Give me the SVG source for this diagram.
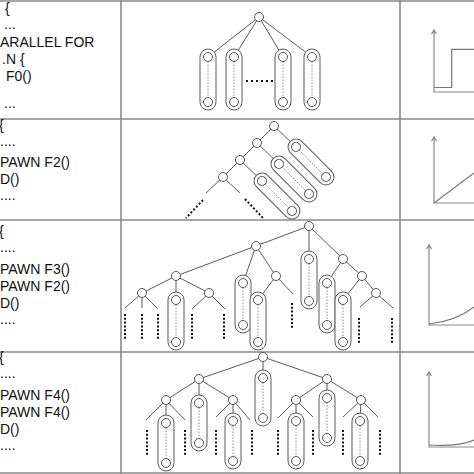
<svg xmlns="http://www.w3.org/2000/svg" width="474" height="474" viewBox="0 0 474 474">
<style>
.grid{stroke:#8a8a8a;stroke-width:1.6;fill:none}
.edge{stroke:#5a5a5a;stroke-width:1;fill:none}
.node{fill:#fff;stroke:#555;stroke-width:1}
.cap{fill:#fff;stroke:#5a5a5a;stroke-width:1}
.inner{stroke:#777;stroke-width:0.8;stroke-dasharray:1.5 1.5;fill:none}
.dots{stroke:#111;stroke-width:2;stroke-dasharray:2 1.8;fill:none}
.txt{font-family:"Liberation Sans",Arial,sans-serif;font-size:14px;fill:#111}
.axis{stroke:#8a8a8a;stroke-width:1.2;fill:none}
.plot{stroke:#777;stroke-width:1.2;fill:none}
</style>
<defs>
<g id="vcap42"><rect class="cap" x="-8" y="-8" width="16" height="58" rx="8"/><line class="inner" x1="0" y1="4.5" x2="0" y2="37.5"/><circle class="node" cx="0" cy="0" r="4.5"/><circle class="node" cx="0" cy="42" r="4.5"/></g>
<g id="vcap40"><rect class="cap" x="-8" y="-8" width="16" height="56" rx="8"/><line class="inner" x1="0" y1="4.5" x2="0" y2="35.5"/><circle class="node" cx="0" cy="0" r="4.5"/><circle class="node" cx="0" cy="40" r="4.5"/></g>
<g id="vcap45"><rect class="cap" x="-8" y="-8" width="16" height="61" rx="8"/><line class="inner" x1="0" y1="4.5" x2="0" y2="40.5"/><circle class="node" cx="0" cy="0" r="4.5"/><circle class="node" cx="0" cy="45" r="4.5"/></g>
<g id="dcap"><rect class="cap" x="-29.2" y="-8" width="58.4" height="16" rx="8"/><line class="inner" x1="-16.7" y1="0" x2="16.7" y2="0"/><circle class="node" cx="-21.2" cy="0" r="4.5"/><circle class="node" cx="21.2" cy="0" r="4.5"/></g>
</defs>
<rect x="0" y="0" width="474" height="474" fill="#fff"/>
<g id="grid">
<line class="grid" x1="0" y1="1" x2="474" y2="1"/>
<line class="grid" x1="0" y1="119" x2="474" y2="119"/>
<line class="grid" x1="0" y1="220" x2="474" y2="220"/>
<line class="grid" x1="0" y1="352" x2="474" y2="352"/>
<line class="grid" x1="0" y1="473" x2="474" y2="473"/>
<line class="grid" x1="121" y1="0" x2="121" y2="474"/>
<line class="grid" x1="400" y1="0" x2="400" y2="474"/>
</g>
<g id="code">
<text class="txt" x="5" y="13">{</text>
<text class="txt" x="4" y="29">...</text>
<text class="txt" x="0" y="47">ARALLEL FOR</text>
<text class="txt" x="2" y="64">.N {</text>
<text class="txt" x="6" y="81">F0()</text>
<text class="txt" x="4" y="108">...</text>
<text class="txt" x="-1" y="130">{</text>
<text class="txt" x="0" y="146">....</text>
<text class="txt" x="0" y="167">PAWN F2()</text>
<text class="txt" x="0" y="184">D()</text>
<text class="txt" x="0" y="200">....</text>
<text class="txt" x="-1" y="236">{</text>
<text class="txt" x="0" y="252">....</text>
<text class="txt" x="0" y="274">PAWN F3()</text>
<text class="txt" x="0" y="291">PAWN F2()</text>
<text class="txt" x="0" y="308">D()</text>
<text class="txt" x="0" y="324">....</text>
<text class="txt" x="-1" y="362">{</text>
<text class="txt" x="0" y="378">....</text>
<text class="txt" x="0" y="400">PAWN F4()</text>
<text class="txt" x="0" y="417">PAWN F4()</text>
<text class="txt" x="0" y="434">D()</text>
<text class="txt" x="0" y="450">....</text>
</g>
<g id="connectors">
<line class="edge" x1="259" y1="17" x2="208" y2="57"/>
<line class="edge" x1="259" y1="17" x2="234" y2="57"/>
<line class="edge" x1="259" y1="17" x2="283" y2="57"/>
<line class="edge" x1="259" y1="17" x2="312" y2="57"/>
<line class="dots" x1="246" y1="81" x2="273" y2="81" style="stroke-dasharray:2 3"/>
<line class="edge" x1="274" y1="126" x2="223" y2="177"/>
<line class="edge" x1="274" y1="126" x2="296" y2="147"/>
<line class="edge" x1="257" y1="143" x2="279" y2="164"/>
<line class="edge" x1="240" y1="160" x2="262" y2="181"/>
<line class="edge" x1="223" y1="177" x2="206" y2="193"/>
<line class="edge" x1="223" y1="177" x2="240" y2="193"/>
<line class="dots" x1="203" y1="200" x2="186" y2="218" style="stroke-dasharray:2 2"/>
<line class="dots" x1="245" y1="199" x2="263" y2="218" style="stroke-dasharray:2 2"/>
<line class="edge" x1="309" y1="226" x2="176" y2="276"/>
<line class="edge" x1="176" y1="276" x2="142" y2="293"/>
<line class="edge" x1="176" y1="276" x2="176" y2="300"/>
<line class="edge" x1="176" y1="276" x2="209" y2="293"/>
<line class="edge" x1="142" y1="293" x2="125" y2="308"/>
<line class="edge" x1="142" y1="293" x2="142" y2="308"/>
<line class="edge" x1="142" y1="293" x2="158" y2="309"/>
<line class="edge" x1="209" y1="293" x2="192" y2="309"/>
<line class="edge" x1="209" y1="293" x2="225" y2="309"/>
<line class="edge" x1="256" y1="246" x2="243" y2="283"/>
<line class="edge" x1="256" y1="246" x2="276" y2="276"/>
<line class="edge" x1="276" y1="276" x2="258" y2="300"/>
<line class="edge" x1="276" y1="276" x2="293" y2="294"/>
<line class="edge" x1="309" y1="226" x2="309" y2="259"/>
<line class="edge" x1="309" y1="226" x2="343" y2="259"/>
<line class="edge" x1="343" y1="259" x2="327" y2="283"/>
<line class="edge" x1="343" y1="259" x2="362" y2="276"/>
<line class="edge" x1="362" y1="276" x2="343" y2="300"/>
<line class="edge" x1="362" y1="276" x2="376" y2="293"/>
<line class="edge" x1="376" y1="293" x2="360" y2="307"/>
<line class="edge" x1="376" y1="293" x2="393" y2="308"/>
<line class="dots" x1="125" y1="314" x2="125" y2="340"/>
<line class="dots" x1="142" y1="314" x2="142" y2="340"/>
<line class="dots" x1="158" y1="314" x2="158" y2="340"/>
<line class="dots" x1="192" y1="314" x2="192" y2="340"/>
<line class="dots" x1="224" y1="314" x2="224" y2="340"/>
<line class="dots" x1="292" y1="303" x2="292" y2="328"/>
<line class="dots" x1="359" y1="318" x2="359" y2="343"/>
<line class="dots" x1="392" y1="318" x2="392" y2="343"/>
<line class="edge" x1="263" y1="357" x2="199" y2="379"/>
<line class="edge" x1="263" y1="357" x2="263" y2="378"/>
<line class="edge" x1="263" y1="357" x2="327" y2="379"/>
<line class="edge" x1="199" y1="379" x2="166" y2="400"/>
<line class="edge" x1="199" y1="379" x2="199" y2="403"/>
<line class="edge" x1="199" y1="379" x2="233" y2="400"/>
<line class="edge" x1="166" y1="400" x2="146" y2="420"/>
<line class="edge" x1="166" y1="400" x2="166" y2="423"/>
<line class="edge" x1="166" y1="400" x2="185" y2="420"/>
<line class="edge" x1="233" y1="400" x2="216" y2="417"/>
<line class="edge" x1="233" y1="400" x2="233" y2="421"/>
<line class="edge" x1="233" y1="400" x2="250" y2="420"/>
<line class="edge" x1="327" y1="379" x2="296" y2="400"/>
<line class="edge" x1="327" y1="379" x2="327" y2="398"/>
<line class="edge" x1="327" y1="379" x2="361" y2="400"/>
<line class="edge" x1="296" y1="400" x2="278" y2="418"/>
<line class="edge" x1="296" y1="400" x2="296" y2="421"/>
<line class="edge" x1="296" y1="400" x2="313" y2="417"/>
<line class="edge" x1="361" y1="400" x2="343" y2="417"/>
<line class="edge" x1="361" y1="400" x2="360" y2="421"/>
<line class="edge" x1="361" y1="400" x2="378" y2="417"/>
<line class="dots" x1="147" y1="430" x2="147" y2="455"/>
<line class="dots" x1="185" y1="430" x2="185" y2="455"/>
<line class="dots" x1="216" y1="430" x2="216" y2="455"/>
<line class="dots" x1="252" y1="430" x2="252" y2="455"/>
<line class="dots" x1="278" y1="430" x2="278" y2="455"/>
<line class="dots" x1="313" y1="430" x2="313" y2="455"/>
<line class="dots" x1="343" y1="430" x2="343" y2="455"/>
<line class="dots" x1="380" y1="430" x2="380" y2="455"/>
</g>
<g id="r1-root"><circle class="node" cx="259" cy="17" r="4.5"/></g>
<g id="r1-cap1"><use href="#vcap45" x="208" y="57"/></g>
<g id="r1-cap2"><use href="#vcap45" x="234" y="57"/></g>
<g id="r1-cap3"><use href="#vcap45" x="283" y="57"/></g>
<g id="r1-cap4"><use href="#vcap45" x="312" y="57"/></g>
<g id="r2-n0"><circle class="node" cx="274" cy="126" r="4.5"/></g>
<g id="r2-n1"><circle class="node" cx="257" cy="143" r="4.5"/></g>
<g id="r2-n2"><circle class="node" cx="240" cy="160" r="4.5"/></g>
<g id="r2-n3"><circle class="node" cx="223" cy="177" r="4.5"/></g>
<g id="r2-cap0"><use href="#dcap" transform="translate(311,162) rotate(45)"/></g>
<g id="r2-cap1"><use href="#dcap" transform="translate(294,179) rotate(45)"/></g>
<g id="r2-cap2"><use href="#dcap" transform="translate(277,196) rotate(45)"/></g>
<g id="r3-R"><circle class="node" cx="309" cy="226" r="4.5"/></g>
<g id="r3-A"><circle class="node" cx="256" cy="246" r="4.5"/></g>
<g id="r3-B"><circle class="node" cx="176" cy="276" r="4.5"/></g>
<g id="r3-C"><circle class="node" cx="142" cy="293" r="4.5"/></g>
<g id="r3-D"><circle class="node" cx="209" cy="293" r="4.5"/></g>
<g id="r3-E"><circle class="node" cx="276" cy="276" r="4.5"/></g>
<g id="r3-F"><circle class="node" cx="343" cy="259" r="4.5"/></g>
<g id="r3-G"><circle class="node" cx="362" cy="276" r="4.5"/></g>
<g id="r3-H"><circle class="node" cx="376" cy="293" r="4.5"/></g>
<g id="r3-capB"><use href="#vcap42" x="176" y="300"/></g>
<g id="r3-capA"><use href="#vcap42" x="243" y="283"/></g>
<g id="r3-capE"><use href="#vcap42" x="258" y="300"/></g>
<g id="r3-capR"><use href="#vcap42" x="309" y="259"/></g>
<g id="r3-capF"><use href="#vcap42" x="327" y="283"/></g>
<g id="r3-capG"><use href="#vcap42" x="343" y="300"/></g>
<g id="r4-R"><circle class="node" cx="263" cy="357" r="4.5"/></g>
<g id="r4-L1"><circle class="node" cx="199" cy="379" r="4.5"/></g>
<g id="r4-R1"><circle class="node" cx="327" cy="379" r="4.5"/></g>
<g id="r4-LL"><circle class="node" cx="166" cy="400" r="4.5"/></g>
<g id="r4-LR"><circle class="node" cx="233" cy="400" r="4.5"/></g>
<g id="r4-RL"><circle class="node" cx="296" cy="400" r="4.5"/></g>
<g id="r4-RR"><circle class="node" cx="361" cy="400" r="4.5"/></g>
<g id="r4-capR"><use href="#vcap40" x="263" y="378"/></g>
<g id="r4-capL1"><use href="#vcap40" x="199" y="403"/></g>
<g id="r4-capR1"><use href="#vcap40" x="327" y="398"/></g>
<g id="r4-capLL"><use href="#vcap40" x="166" y="423"/></g>
<g id="r4-capLR"><use href="#vcap40" x="233" y="421"/></g>
<g id="r4-capRL"><use href="#vcap40" x="296" y="421"/></g>
<g id="r4-capRR"><use href="#vcap40" x="360" y="421"/></g>
<g id="plot1">
<path class="axis" d="M434,30 V92 H474 M431.5,34 L434,30 L436.5,34"/>
<path class="plot" d="M434,87.5 H451.7 V49.3 H474"/>
</g>
<g id="plot2">
<path class="axis" d="M434,137 V203 H474 M431.5,141 L434,137 L436.5,141"/>
<path class="plot" d="M434,203 L474,173"/>
</g>
<g id="plot3">
<path class="axis" d="M429,245 V325 H474 M426.5,249 L429,245 L431.5,249"/>
<path class="plot" d="M429,324 Q456,321 474,307"/>
</g>
<g id="plot4">
<path class="axis" d="M429,372 V447 H474 M426.5,376 L429,372 L431.5,376"/>
<path class="plot" d="M429,445 Q458,447 474,440"/>
</g>
</svg>
